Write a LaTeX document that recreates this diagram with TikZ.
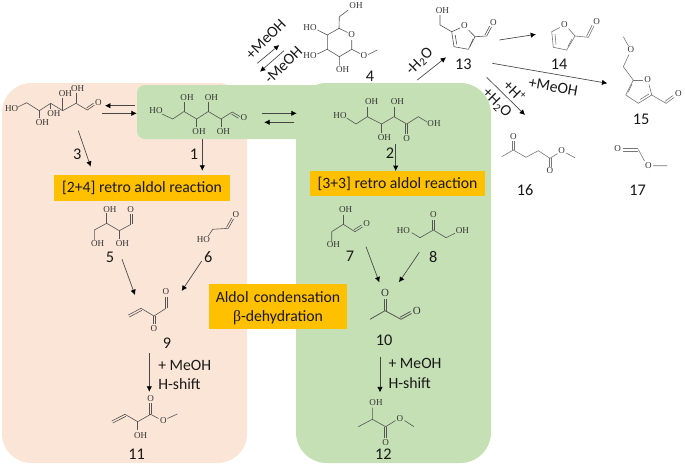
\documentclass[tikz,border=0pt]{standalone}
\usepackage{fontspec}
\setmainfont{Carlito}
\newfontfamily\atomfont{Liberation Serif}
\usetikzlibrary{arrows.meta,positioning,calc}
\definecolor{peachbg}{RGB}{251,229,214}
\definecolor{greenbg}{RGB}{197,224,180}
\definecolor{orangebox}{RGB}{255,192,0}
\definecolor{bondgrey}{RGB}{85,85,85}
\definecolor{arrowgrey}{RGB}{70,70,70}
\tikzset{
  atom/.style={font=\atomfont\fontsize{6.8}{7}\selectfont, text=black!80, inner sep=0pt},
  bigatom/.style={font=\atomfont\fontsize{8.2}{9}\selectfont, text=black!80, inner sep=0pt},
  bond/.style={draw=bondgrey, line width=0.45pt, line join=round},
  rxn/.style={draw=arrowgrey, line width=0.5pt, -{Latex[length=4pt,width=4pt,black]}},
  numlab/.style={font=\fontsize{12.2}{14}\selectfont, text=black!90, inner sep=0pt},
  tag/.style={font=\fontsize{11.8}{13}\selectfont, text=black!90, inner sep=0pt},
  stepbox/.style={fill=orangebox, font=\fontsize{11.8}{14}\selectfont, text=black!90, inner sep=0pt, align=center},
}
\begin{document}
\begin{tikzpicture}[x=0.75pt,y=-0.75pt]
  \useasboundingbox (0,0) rectangle (685,465);
  % regions
  \fill[peachbg, rounded corners=22pt] (2,83) rectangle (247,463);
  \fill[greenbg, rounded corners=23pt] (296,83) rectangle (491,463);
  \fill[greenbg, rounded corners=6pt] (137,85) rectangle (330,139);
  % boxes
  \node[stepbox, minimum width=132pt, minimum height=19.5pt] (box24) at (142,187.5) {[2+4] retro aldol reaction};
  \node[stepbox, minimum width=131.25pt, minimum height=18.75pt] (box33) at (397.5,183.5) {[3+3] retro aldol reaction};
  \node[stepbox, minimum width=103.5pt, minimum height=33.75pt, text width=103.5pt, font=\fontsize{11.8}{14.3}\selectfont] (boxald) at (278,306.5) {\rule{0pt}{11pt}Aldol condensation\\{\atomfont β}-dehydration};

  % molecule 1
  \draw[bond] (162,114) -- (172.7,119) -- (184,111.5) -- (196.7,119) -- (208.3,111.5) -- (221,119) -- (232.3,112);
  \draw[bond] (232.3,112) -- (240,116.5) (231.5,114) -- (238.5,118.2);
  \draw[bond] (184,111.5) -- (184,102) (208.3,111.5) -- (208.3,102) (196.7,119) -- (196.7,127) (221,119) -- (221,127);
  \node[atom] (m1ho) at (156,111) {HO};
  \node[atom] (m1oha) at (187,97.3) {OH};
  \node[atom] (m1ohb) at (211.3,97.3) {OH};
  \node[atom] (m1ohc) at (199,132) {OH};
  \node[atom] (m1ohd) at (223.3,132) {OH};
  \node[atom] (m1o) at (244,117.3) {O};

  % molecule 2
  \draw[bond] (346.7,118) -- (356,124) -- (367.3,116.7) -- (381.7,124) -- (394,116.7) -- (406.7,124) -- (418.3,116.7) -- (426.7,121.7);
  \draw[bond] (367.3,116.7) -- (367.3,107.3) (394,116.7) -- (394,107.3) (381.7,124) -- (381.7,132.7);
  \draw[bond] (405.7,124) -- (405.7,133.5) (407.7,124) -- (407.7,133.5);
  \node[atom] (m2ho) at (340,116) {HO};
  \node[atom] (m2oha) at (371.7,102) {OH};
  \node[atom] (m2ohb) at (397.3,102) {OH};
  \node[atom] (m2ohc) at (384.3,138) {OH};
  \node[atom] (m2o) at (406.7,138.5) {O};
  \node[atom] (m2ohd) at (434,123.3) {OH};

  % molecule 3
  \draw[bond] (18,107) -- (26.7,102.7) -- (39.3,110.7) -- (50.7,103.3) -- (62.7,110.7) -- (76,103.3) -- (87.3,110);
  \draw[bond] (87.3,110) -- (94.5,105) (86.5,108) -- (93.5,103.2);
  \draw[bond] (39.3,110.7) -- (39.3,118) (50.7,103.3) -- (50.7,109) (62.7,110.7) -- (62.7,98) (76,103.3) -- (76,93);
  \node[atom] (m3ho) at (11.7,109) {HO};
  \node[atom] (m3oha) at (42.3,122.7) {OH};
  \node[atom] (m3ohb) at (54,113.3) {OH};
  \node[atom] (m3ohc) at (65.3,93.7) {OH};
  \node[atom] (m3ohd) at (77.7,88.3) {OH};
  \node[atom] (m3o) at (98.3,102.3) {O};

  % molecule 4
  \draw[bond] (347.5,32.5) -- (339,28.3) -- (327.3,35) -- (327.3,49.3) -- (339.3,56.7) -- (351.7,49.3) -- (351.7,40);
  \draw[bond] (339,28.3) -- (339.3,16.7) -- (348.3,10);
  \draw[bond] (327.3,35) -- (317.5,30) (327.3,49.3) -- (317.3,54) (339.3,56.7) -- (339.3,65.7);
  \draw[bond] (351.7,49.3) -- (360,53.5) (368.3,54.5) -- (377.3,50);
  \node[atom] (m4oh) at (356,5.7) {OH};
  \node[atom] (m4hoa) at (310,27.3) {HO};
  \node[atom] (m4hob) at (310,56) {HO};
  \node[atom] (m4ohb) at (342.7,70) {OH};
  \node[atom] (m4oa) at (351.7,35) {O};
  \node[atom] (m4ob) at (364,56) {O};

  % molecule 5
  \draw[bond] (94.3,240) -- (94.3,230) -- (106.7,223.3) -- (119.3,230.7) -- (131,224.3);
  \draw[bond] (106.7,223.3) -- (106.7,213.3) (119.3,230.7) -- (119.3,239.3);
  \draw[bond] (130,224.8) -- (130,214) (132,223.5) -- (132,214);
  \node[atom] (m5oha) at (110,209.3) {OH};
  \node[atom] (m5o) at (130.7,209.3) {O};
  \node[atom] (m5ohb) at (97.7,244) {OH};
  \node[atom] (m5ohc) at (122.3,244) {OH};

  % molecule 6
  \draw[bond] (208.3,236) -- (212.7,229.3) -- (228.3,228.3);
  \draw[bond] (228.3,228.3) -- (233.5,219) (226.5,227.3) -- (231.7,218);
  \node[atom] (m6o) at (236,214.3) {O};
  \node[atom] (m6ho) at (203.3,240) {HO};

  % molecule 7
  \draw[bond] (331.7,241) -- (331.7,231.7) -- (343.3,224.3) -- (355,231.7);
  \draw[bond] (343.3,224.3) -- (343.3,214.5);
  \draw[bond] (355,231.7) -- (362.5,227) (354,229.7) -- (361.5,225);
  \node[atom] (m7oha) at (345.7,210) {OH};
  \node[atom] (m7ohb) at (333.3,245) {OH};
  \node[atom] (m7o) at (366.7,224) {O};

  % molecule 8
  \draw[bond] (411.7,232.7) -- (420,237.7) -- (433.3,230) -- (446,237.7) -- (455,233.3);
  \draw[bond] (432.3,230) -- (432.3,219.5) (434.3,230) -- (434.3,219.5);
  \node[atom] (m8ho) at (403.3,230.7) {HO};
  \node[atom] (m8o) at (433.3,215) {O};
  \node[atom] (m8oh) at (462.3,230.7) {OH};

  % molecule 9
  \draw[bond] (128.3,315) -- (141,308.3) -- (154,316) -- (166,308.3);
  \draw[bond] (129.3,317) -- (142,310.3);
  \draw[bond] (165,308.8) -- (165,296.5) (167,308) -- (167,296.5);
  \draw[bond] (153,316) -- (153,324) (155,316) -- (155,324);
  \node[atom] (m9oa) at (166,291.7) {O};
  \node[atom] (m9ob) at (154,328.3) {O};

  % molecule 10
  \draw[bond, line width=0.6pt] (370,319.3) -- (385,310.7) -- (401,319.3);
  \draw[bond, line width=0.6pt] (384,310.7) -- (384,298.5) (386,310.7) -- (386,298.5);
  \draw[bond, line width=0.6pt] (401,319.3) -- (411.5,313.5) (400,317.3) -- (410.5,311.5);
  \node[bigatom] (m10oa) at (385,293.3) {O};
  \node[bigatom] (m10ob) at (416.7,311) {O};

  % molecule 11
  \draw[bond] (125,414.3) -- (137.7,421.7) -- (150.7,414.3) -- (158.5,418.5) (167.5,418.5) -- (177.3,414);
  \draw[bond] (111.7,421) -- (125,414.3) (112.7,423) -- (126,416.3);
  \draw[bond] (137.7,421.7) -- (137.7,430);
  \draw[bond] (149.7,414.8) -- (149.7,403) (151.7,414.3) -- (151.7,403);
  \node[atom] (m11o) at (150.7,398.3) {O};
  \node[atom] (m11ob) at (163.3,421) {O};
  \node[atom] (m11oh) at (140.7,435.7) {OH};

  % molecule 12
  \draw[bond] (372.3,407.7) -- (372.3,419.3) -- (358.3,426.7) (372.3,419.3) -- (385.7,426.7) -- (395.5,420.5) (404.5,420.5) -- (414,426.7);
  \draw[bond] (384.7,426.7) -- (384.7,438) (386.7,426.7) -- (386.7,438);
  \node[atom] (m12oh) at (376,402.7) {OH};
  \node[atom] (m12oa) at (400,418.3) {O};
  \node[atom] (m12ob) at (385.7,442.3) {O};

  % molecule 13
  \draw[bond] (440,15) -- (440,25) -- (451.7,31.7) -- (454,46.7) -- (468.3,49.3) -- (475,36.7) -- (468.5,30);
  \draw[bond] (451.7,31.7) -- (460,28);
  \draw[bond] (455.2,35) -- (456.8,44.5) (470,46.5) -- (473,39);
  \draw[bond] (475,36.7) -- (486.7,36);
  \draw[bond] (486.7,36) -- (491.5,27) (484.9,35) -- (489.7,26);
  \node[atom] (m13oh) at (442.3,11) {OH};
  \node[atom] (m13oa) at (464.3,26) {O};
  \node[atom] (m13ob) at (493.3,22.7) {O};

  % molecule 14
  \draw[bond, draw=bondgrey!80] (560,27.5) -- (551.7,31.7) -- (553.3,47.3) -- (566.7,50) -- (575,36) -- (568.5,28.5);
  \draw[bond, draw=bondgrey!80] (555,34) -- (556,44.5) (568,46.5) -- (572,39);
  \draw[bond, draw=bondgrey!80] (575,36) -- (588.3,37.3);
  \draw[bond, draw=bondgrey!80] (588.3,37.3) -- (594,26) (586.5,36.3) -- (592.2,25);
  \node[atom] (m14oa) at (564.3,25) {O};
  \node[atom] (m14ob) at (596.7,21.7) {O};

  % molecule 15
  \draw[bond, draw=bondgrey!80] (623.3,36.7) -- (628.5,46) (629,54.5) -- (623.3,66.7) -- (633.3,80) -- (625.7,95) -- (638.3,103.3) -- (651.7,95) -- (649,84.5);
  \draw[bond, draw=bondgrey!80] (633.3,80) -- (643,80);
  \draw[bond, draw=bondgrey!80] (632,84) -- (628,92.5) (640,99.5) -- (649,94);
  \draw[bond, draw=bondgrey!80] (651.7,95) -- (666,103.3);
  \draw[bond, draw=bondgrey!80] (666,103.3) -- (674,97.5) (665,101.3) -- (673,95.5);
  \node[atom] (m15oa) at (631,50) {O};
  \node[atom] (m15ob) at (647.7,80) {O};
  \node[atom] (m15oc) at (678.3,94) {O};

  % molecule 16
  \draw[bond, draw=bondgrey!80] (501.7,156.7) -- (513.3,150) -- (526,157.3) -- (538.3,150.7) -- (550,158.3) -- (557.5,153.5) (566,153) -- (575,157.7);
  \draw[bond, draw=bondgrey!80] (512.3,150) -- (512.3,141) (514.3,150) -- (514.3,141);
  \draw[bond, draw=bondgrey!80] (549,158.3) -- (549,167) (551,158.3) -- (551,167);
  \node[atom] (m16oa) at (513.3,136.7) {O};
  \node[atom] (m16ob) at (550,171) {O};
  \node[atom] (m16oc) at (561.7,150.7) {O};

  % molecule 17
  \draw[bond, draw=bondgrey!80] (623,148.5) -- (638.3,148.5) (623,151) -- (638.3,151);
  \draw[bond, draw=bondgrey!80] (638.3,149.5) -- (644.5,161) (653,165.7) -- (667.3,165.7);
  \node[atom] (m17oa) at (617.7,149) {O};
  \node[atom] (m17ob) at (648.3,165.7) {O};

  % numbers
  \foreach \n/\x/\y in {1/194/154, 2/390/153, 3/77.3/154, 4/370/76, 5/110/257.3, 6/208.3/256.7,
      7/350/256.7, 8/433.3/256.7, 9/167/343, 10/384/340, 11/136.7/454, 12/383.3/454,
      13/463.3/64, 14/559/64, 15/641/119, 16/525/190, 17/637.7/190}
    \node[numlab] (n\n) at (\x,\y) {\n};

  % reaction arrows
  \coordinate (r31s) at (135,105.7);    \coordinate (r31e) at (105,105.7);
  \coordinate (r13s) at (102,113.3);    \coordinate (r13e) at (136.7,113.3);
  \coordinate (r12s) at (261.7,113.3);  \coordinate (r12e) at (296.7,113.3);
  \coordinate (r21s) at (294.3,122.3);  \coordinate (r21e) at (264.3,122.3);
  \coordinate (r14s) at (257.3,63.3);   \coordinate (r14e) at (279.3,45);
  \coordinate (r41s) at (284,50.7);     \coordinate (r41e) at (260,71.7);
  \coordinate (r1bs) at (202.3,139);    \coordinate (r1be) at (202.3,170.7);
  \coordinate (r3bs) at (78.3,130.7);   \coordinate (r3be) at (90.7,166.7);
  \coordinate (r2bs) at (395.7,144);    \coordinate (r2be) at (395.7,171);
  \coordinate (r213s) at (417.3,80);    \coordinate (r213e) at (446,57.3);
  \coordinate (r1314s) at (499.3,40);   \coordinate (r1314e) at (536,34.3);
  \coordinate (r1315s) at (492.3,63.3); \coordinate (r1315e) at (607.3,83.3);
  \coordinate (r1316s) at (486.7,77.3); \coordinate (r1316e) at (525,115);
  \coordinate (r59s) at (122,259.3);    \coordinate (r59e) at (135,295);
  \coordinate (r69s) at (201.7,261);    \coordinate (r69e) at (181.7,291);
  \coordinate (r710s) at (366,246.7);   \coordinate (r710e) at (379.3,282.3);
  \coordinate (r810s) at (419.3,252.3); \coordinate (r810e) at (399,282.3);
  \coordinate (r911s) at (149.3,353.3); \coordinate (r911e) at (149.3,391.7);
  \coordinate (r1012s) at (380,356.7);  \coordinate (r1012e) at (380,392.3);
  \foreach \r in {r31,r13,r12,r21,r14,r41,r1b,r3b,r2b,r213,r1314,r1315,r1316,r59,r69,r710,r810,r911,r1012}
    \draw[rxn] (\r s) -- (\r e);

  % arrow labels
  \node[tag, rotate=45] (tagpm) at (265.7,39) {+MeOH};
  \node[tag, rotate=45] (tagmm) at (283.3,65) {-MeOH};
  \node[tag, rotate=45] (tagwa) at (420,61.7) {-H\textsubscript{2}O};
  \node[tag, rotate=-10] (tagme) at (553.3,86.7) {+MeOH};
  \node[tag, rotate=-45] (tagh) at (515,91) {+H\textsuperscript{+}};
  \node[tag, rotate=-45] (tagwb) at (496.7,103.3) {+H\textsubscript{2}O};
  \node[tag, anchor=west] (tagma) at (158,365) {+ MeOH};
  \node[tag, anchor=west] (tagsa) at (158,384) {H-shift};
  \node[tag, anchor=west] (tagmb) at (388.3,363.3) {+ MeOH};
  \node[tag, anchor=west] (tagsb) at (388.3,382.7) {H-shift};
\end{tikzpicture}
\end{document}
